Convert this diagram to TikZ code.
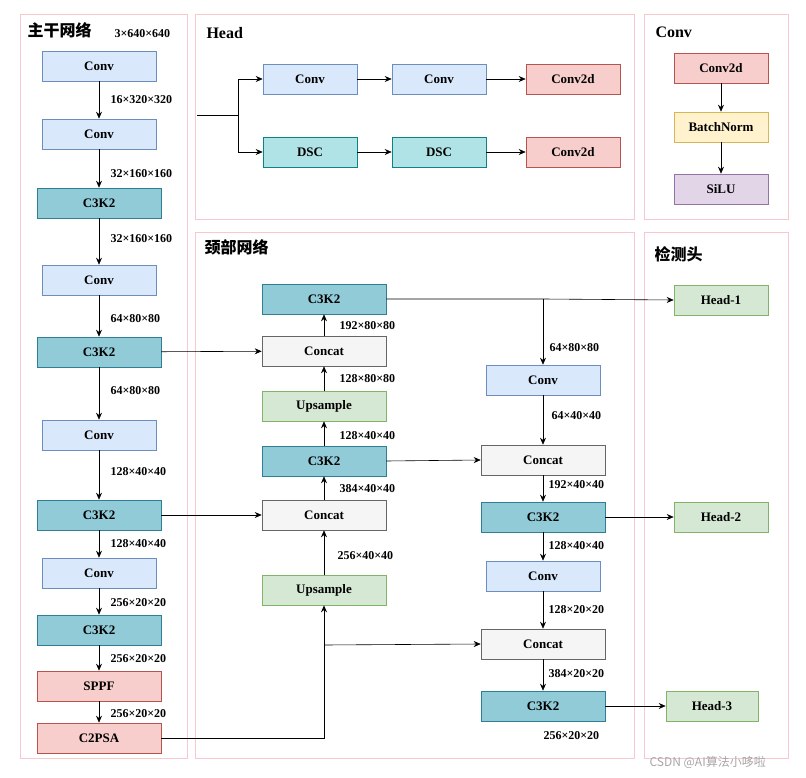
\documentclass[tikz,border=0pt]{standalone}
\usepackage{fontspec}
\setmainfont{Liberation Serif}
\newfontfamily\cjk{Noto Sans CJK SC}
\usetikzlibrary{arrows.meta}
\definecolor{cvf}{HTML}{DAE8FC}\definecolor{cvd}{HTML}{6C8EBF}
\definecolor{ckf}{HTML}{92CBD8}\definecolor{ckd}{HTML}{2E7F94}
\definecolor{ccf}{HTML}{F5F5F5}\definecolor{ccd}{HTML}{666666}
\definecolor{gf}{HTML}{D5E8D4}\definecolor{gd}{HTML}{82B366}
\definecolor{rf}{HTML}{F8CECC}\definecolor{rd}{HTML}{B85450}
\definecolor{yf}{HTML}{FFF2CC}\definecolor{yd}{HTML}{D6B656}
\definecolor{pf}{HTML}{E1D5E7}\definecolor{pd}{HTML}{9673A6}
\definecolor{df}{HTML}{B0E3E6}\definecolor{dd}{HTML}{0E8088}
\definecolor{panel}{HTML}{F8C8CC}
\begin{document}
\begin{tikzpicture}[x=1pt,y=-1pt,
 box/.style={draw,minimum height=30pt,font=\bfseries\fontsize{13}{15}\selectfont,inner sep=0pt,line width=0.6pt},
 conv/.style={box,fill=cvf,draw=cvd,minimum width=114pt},
 ck/.style={box,fill=ckf,draw=ckd,minimum width=124pt},
 cc/.style={box,fill=ccf,draw=ccd,minimum width=124pt},
 up/.style={box,fill=gf,draw=gd,minimum width=124pt},
 red/.style={box,fill=rf,draw=rd,minimum width=94pt},
 pan/.style={draw=panel,line width=0.6pt},
 ttl/.style={font=\bfseries\fontsize{16}{18}\selectfont,anchor=west},
 ctl/.style={font=\cjk\bfseries\fontsize{16}{18}\selectfont,anchor=west},
 dim/.style={font=\bfseries\fontsize{12}{14}\selectfont,anchor=west},
 ar/.style={-{Stealth[length=7pt,width=6pt]},line width=0.6pt},
 ln/.style={line width=0.6pt}]
\useasboundingbox (0,0) rectangle (806,778);
% panels
\draw[pan] (20,14) rectangle (187,758);
\draw[pan] (195,14) rectangle (634,219);
\draw[pan] (644,14) rectangle (788,219);
\draw[pan] (195,232) rectangle (634,758);
\draw[pan] (644,232) rectangle (788,758);
\node[ctl] (t1) at (24,30) {主干网络};
\node[ttl] (t2) at (203,33) {Head};
\node[ttl] (t3) at (652,32) {Conv};
\node[ctl] (t4) at (201,247) {颈部网络};
\node[ctl] (t5) at (651,254) {检测头};
% backbone
\node[conv] (b1) at (99,66) {Conv};
\node[conv] (b2) at (99,134) {Conv};
\node[ck] (b3) at (99,203) {C3K2};
\node[conv] (b4) at (99,280) {Conv};
\node[ck] (b5) at (99,352) {C3K2};
\node[conv] (b6) at (99,435) {Conv};
\node[ck] (b7) at (99,515) {C3K2};
\node[conv] (b8) at (99,573) {Conv};
\node[ck] (b9) at (99,630) {C3K2};
\node[red,minimum width=124pt] (b10) at (99,686) {SPPF};
\node[red,minimum width=124pt] (b11) at (99,738) {C2PSA};
\foreach \a/\b in {b1/b2,b2/b3,b3/b4,b4/b5,b5/b6,b6/b7,b7/b8,b8/b9,b9/b10,b10/b11}
  \draw[ar] (\a) -- (\b);
\node[dim] (d0) at (111,34) {3×640×640};
\node[dim] (d1) at (107,100) {16×320×320};
\node[dim] (d2) at (107,174) {32×160×160};
\node[dim] (d3) at (107,239) {32×160×160};
\node[dim] (d4) at (107,319) {64×80×80};
\node[dim] (d5) at (107,391) {64×80×80};
\node[dim] (d6) at (107,472) {128×40×40};
\node[dim] (d7) at (107,544) {128×40×40};
\node[dim] (d8) at (107,603) {256×20×20};
\node[dim] (d9) at (107,659) {256×20×20};
\node[dim] (d10) at (107,714) {256×20×20};
% head panel
\coordinate (hs) at (197,115);
\coordinate (hj) at (238,115);
\node[conv,minimum width=94pt] (h1) at (310,79) {Conv};
\node[conv,minimum width=94pt] (h2) at (439,79) {Conv};
\node[red] (h3) at (573,79) {Conv2d};
\node[box,fill=df,draw=dd,minimum width=94pt] (h4) at (310,152) {DSC};
\node[box,fill=df,draw=dd,minimum width=94pt] (h5) at (439,152) {DSC};
\node[red] (h6) at (573,152) {Conv2d};
\draw[ln] (hs) -- (hj);
\draw[ar] (hj) |- (h1);
\draw[ar] (hj) |- (h4);
\draw[ar] (h1) -- (h2); \draw[ar] (h2) -- (h3);
\draw[ar] (h4) -- (h5); \draw[ar] (h5) -- (h6);
% conv panel
\node[red] (c1) at (721,68) {Conv2d};
\node[box,fill=yf,draw=yd,minimum width=94pt] (c2) at (721,127) {BatchNorm};
\node[box,fill=pf,draw=pd,minimum width=94pt] (c3) at (721,189) {SiLU};
\draw[ar] (c1) -- (c2); \draw[ar] (c2) -- (c3);
% neck left
\node[ck] (n1) at (324,299) {C3K2};
\node[cc] (n2) at (324,351) {Concat};
\node[up] (n3) at (324,406) {Upsample};
\node[ck] (n4) at (324,461) {C3K2};
\node[cc] (n5) at (324,515) {Concat};
\node[up] (n6) at (324,590) {Upsample};
\draw[ar] (n6) -- (n5); \draw[ar] (n5) -- (n4); \draw[ar] (n4) -- (n3);
\draw[ar] (n3) -- (n2); \draw[ar] (n2) -- (n1);
\draw[ar] (b5) -- (n2);
\draw[ar] (b7) -- (n5);
\coordinate (cj) at (324,738);
\coordinate (cb) at (324,645);
\draw[ar,line width=1pt] (b11.east) -- (cj) -- (n6);
\node[dim] (e1) at (336,326) {192×80×80};
\node[dim] (e2) at (336,379) {128×80×80};
\node[dim] (e3) at (336,436) {128×40×40};
\node[dim] (e4) at (336,489) {384×40×40};
\node[dim] (e5) at (334,556) {256×40×40};
% neck right
\node[conv] (r1) at (543,380) {Conv};
\node[cc] (r2) at (543,460) {Concat};
\node[ck] (r3) at (543,517) {C3K2};
\node[conv] (r4) at (543,576) {Conv};
\node[cc] (r5) at (543,644) {Concat};
\node[ck] (r6) at (543,706) {C3K2};
\node[box,fill=gf,draw=gd,minimum width=94pt] (o1) at (721,300) {Head-1};
\node[box,fill=gf,draw=gd,minimum width=94pt] (o2) at (721,517) {Head-2};
\node[box,fill=gf,draw=gd,minimum width=92pt] (o3) at (712,706) {Head-3};
\coordinate (k1) at (543,299);
\draw[ar] (n1.east) -- (k1) -- (o1.west);
\draw[ar] (k1) -- (r1);
\draw[ar] (r1) -- (r2);
\draw[ar] (n4.east) -- (r2.west);
\draw[ar] (r2) -- (r3); \draw[ar] (r3) -- (r4); \draw[ar] (r4) -- (r5); \draw[ar] (r5) -- (r6);
\draw[ar] (r3) -- (o2);
\draw[ar] (r6) -- (o3);
\draw[ar] (cb) -- (r5.west);
\node[dim] (f1) at (546,348) {64×80×80};
\node[dim] (f2) at (548,416) {64×40×40};
\node[dim] (f3) at (545,485) {192×40×40};
\node[dim] (f4) at (545,546) {128×40×40};
\node[dim] (f5) at (545,610) {128×20×20};
\node[dim] (f6) at (545,674) {384×20×20};
\node[dim] (f7) at (540,736) {256×20×20};
\node[font=\cjk\fontsize{12}{14}\selectfont,text=gray!70,anchor=west] (wm) at (646,762) {CSDN @AI算法小哆啦};
\end{tikzpicture}
\end{document}
